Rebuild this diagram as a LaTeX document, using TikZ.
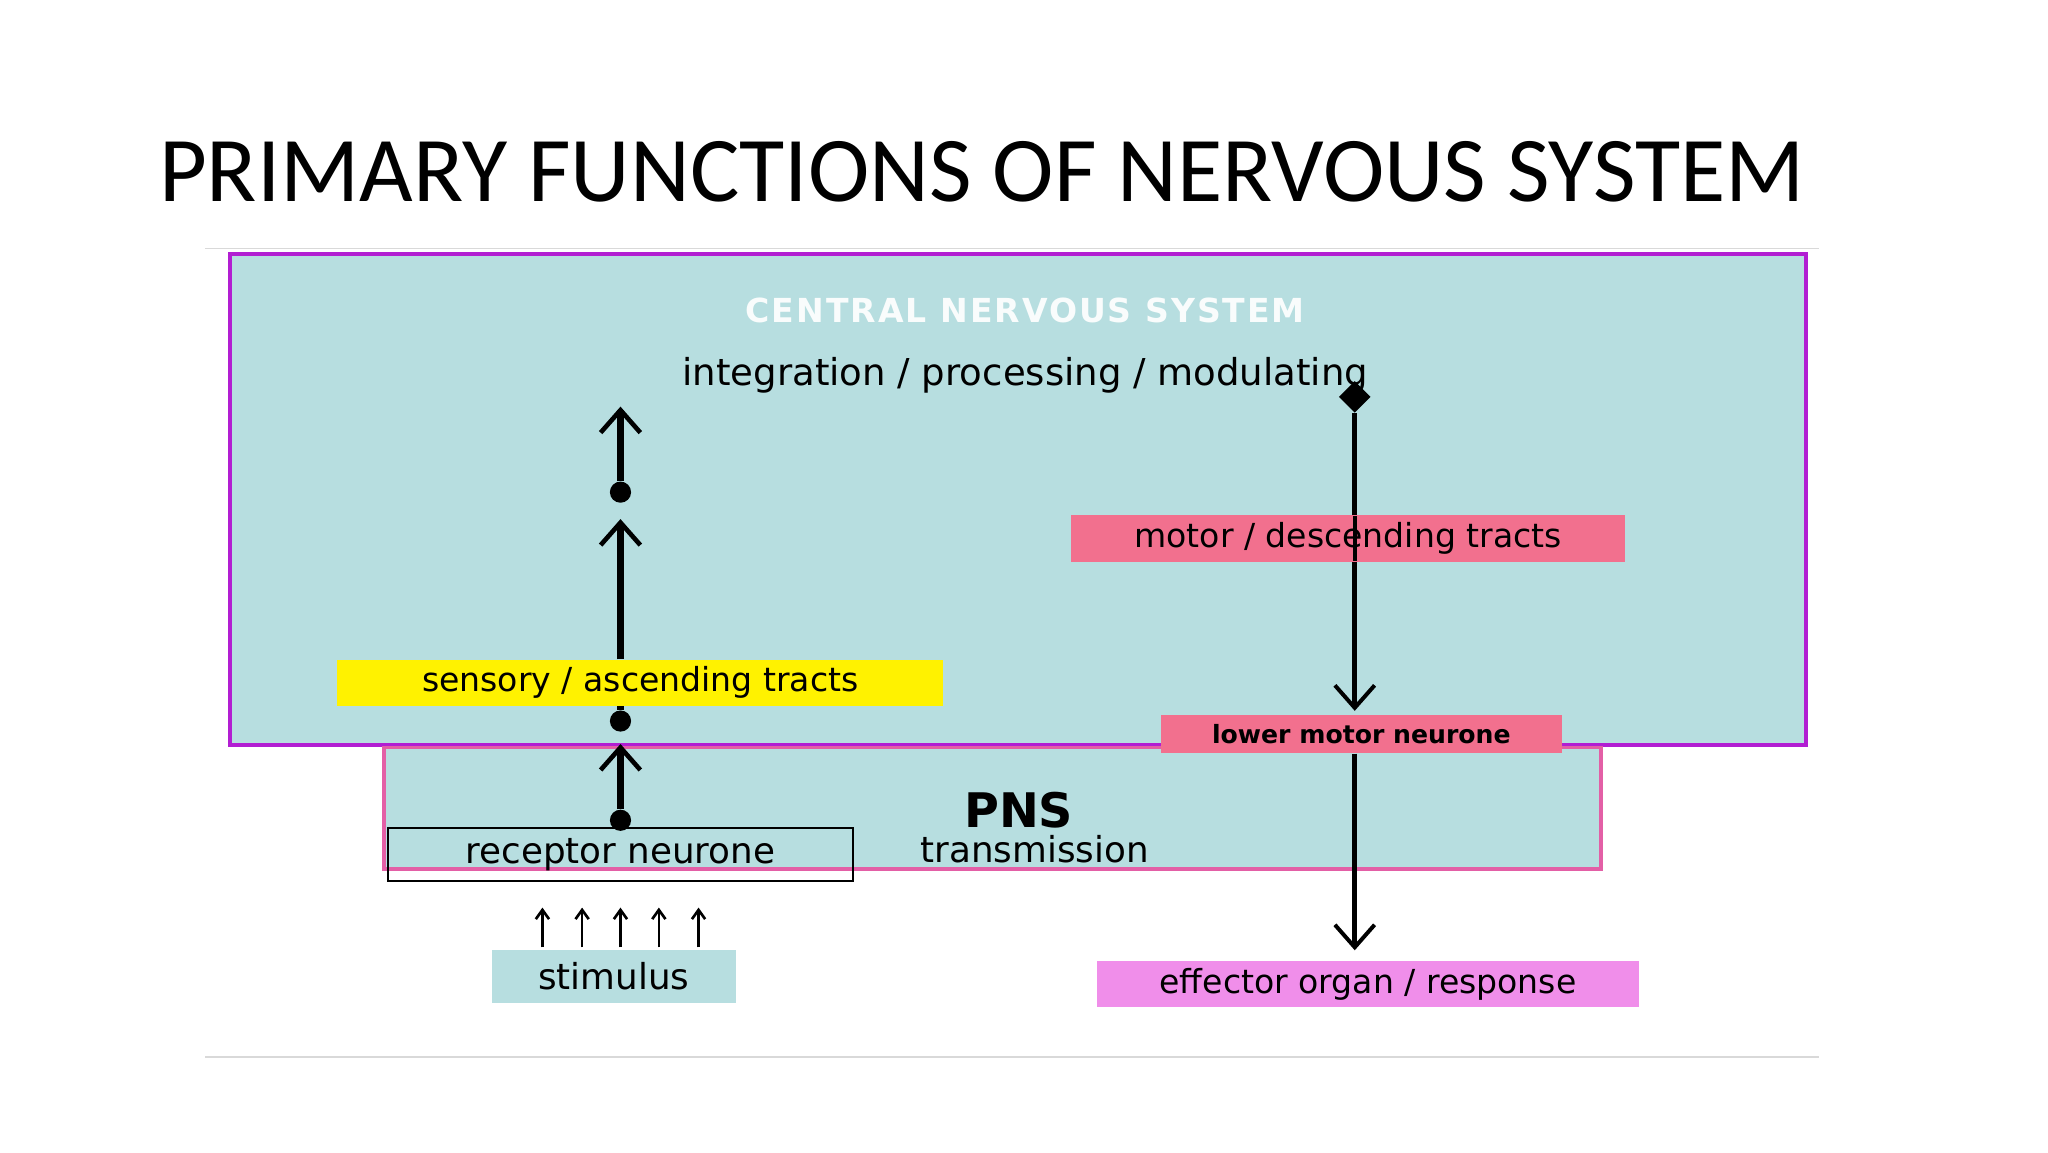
\documentclass[tikz,border=0pt]{standalone}
\usepackage{fontspec}
\setmainfont{DejaVu Sans}
\newfontfamily\titlefont{Carlito}
\usetikzlibrary{arrows.meta,shapes.geometric}
\definecolor{bgblue}{HTML}{B7DEE0}
\definecolor{cnsborder}{HTML}{B21ED2}
\definecolor{pnsborder}{HTML}{E35FA6}
\definecolor{motorred}{HTML}{F2708E}
\definecolor{effpink}{HTML}{F08EEA}
\definecolor{sensyel}{HTML}{FFF200}
\begin{document}
\begin{tikzpicture}[x=1pt,y=-1pt,
  lbl/.style={inner sep=0pt,font=\fontsize{25}{27}\selectfont},
  dot/.style={circle,fill=black,inner sep=0pt,minimum size=16pt},
  shaft/.style={line width=5pt},
  chev/.style={line width=3.5pt},
  small/.style={line width=2pt,-{Straight Barb[length=7pt,width=10pt]}}]
\useasboundingbox (0,0) rectangle (1548,871);
\fill[white] (0,0) rectangle (1548,871);
\node[anchor=base west,inner sep=0pt,font=\titlefont\fontsize{70}{72}\selectfont] (title) at (120,152) {PRIMARY FUNCTIONS OF NERVOUS SYSTEM};
\draw[gray!30,line width=1pt] (155,188) -- (1375,188);
\draw[gray!30,line width=1pt] (155,799) -- (1375,799);
% CNS
\draw[cnsborder,fill=bgblue,line width=3pt] (174,192) rectangle (1365,563);
\node[lbl,font=\bfseries\fontsize{25}{27}\selectfont\addfontfeature{LetterSpace=6},text=white!92!bgblue] (cns) at (775,235) {CENTRAL NERVOUS SYSTEM};
\node[lbl,font=\fontsize{28}{30}\selectfont] (integ) at (775,284) {integration / processing / modulating};
% PNS
\draw[pnsborder,fill=bgblue,line width=3pt] (290,565) rectangle (1210,657);
\node[lbl,font=\bfseries\fontsize{36}{38}\selectfont] (pns) at (770,612) {PNS};
\node[lbl,font=\fontsize{27}{29}\selectfont] (trans) at (782,642) {transmission};
% labels
\node[lbl,fill=sensyel,minimum width=458pt,minimum height=35pt] (sens) at (484,516) {sensory / ascending tracts};
\node[draw=black,line width=1.5pt,minimum width=352pt,minimum height=40pt,inner sep=0pt,font=\fontsize{27}{29}\selectfont] (rec) at (469,646) {receptor neurone};
\node[lbl,fill=bgblue,minimum width=184pt,minimum height=40pt,font=\fontsize{27}{29}\selectfont] (stim) at (464,738) {stimulus};
% left pathway
\node[dot] (d1) at (469,620) {};
\node[dot] (d2) at (469,545) {};
\node[dot] (d3) at (469,372) {};
\coordinate (c1) at (469,565);
\coordinate (c2) at (469,395);
\coordinate (c3) at (469,310);
\draw[shaft] (d1) -- (c1);
\draw[shaft] (d2.north) -- (sens.south -| d2);
\draw[shaft] (sens.north -| c2) -- (c2);
\draw[shaft] (d3) -- (c3);
\foreach \c in {c1,c2,c3}{
  \draw[chev,line join=miter] ([shift={(-15,17)}]\c) -- (\c) -- ([shift={(15,17)}]\c);}
% stimulus arrows
\foreach \x in {410,440,469,498,528}{
  \coordinate (sa\x) at (\x,686);
  \draw[small] (\x,716) -- (sa\x);}
% right pathway
\node[diamond,fill=black,inner sep=0pt,minimum size=24pt] at (1024,300) (dia) {};
\node[lbl,fill=motorred,minimum width=419pt,minimum height=35pt] (motor) at (1019,407) {motor / descending tracts};
\node[lbl,fill=motorred,minimum width=303pt,minimum height=29pt,font=\bfseries\fontsize{19}{21}\selectfont] (lmn) at (1029,555) {lower motor neurone};
\node[lbl,fill=effpink,minimum width=409pt,minimum height=35pt] (eff) at (1034,744) {effector organ / response};
\coordinate (r1) at (1024,535);
\coordinate (r2) at (1024,716);
\draw[line width=4pt] (dia) -- (motor.north -| dia);
\draw[line width=4pt] (motor.south -| dia) -- (r1);
\draw[line width=4pt] (lmn.south -| dia) -- (r2);
\draw[line width=3pt] (1024,390) -- (1024,424);
\foreach \c in {r1,r2}{
  \draw[line width=3pt,line join=miter] ([shift={(-15,-17)}]\c) -- (\c) -- ([shift={(15,-17)}]\c);}
\end{tikzpicture}
\end{document}
